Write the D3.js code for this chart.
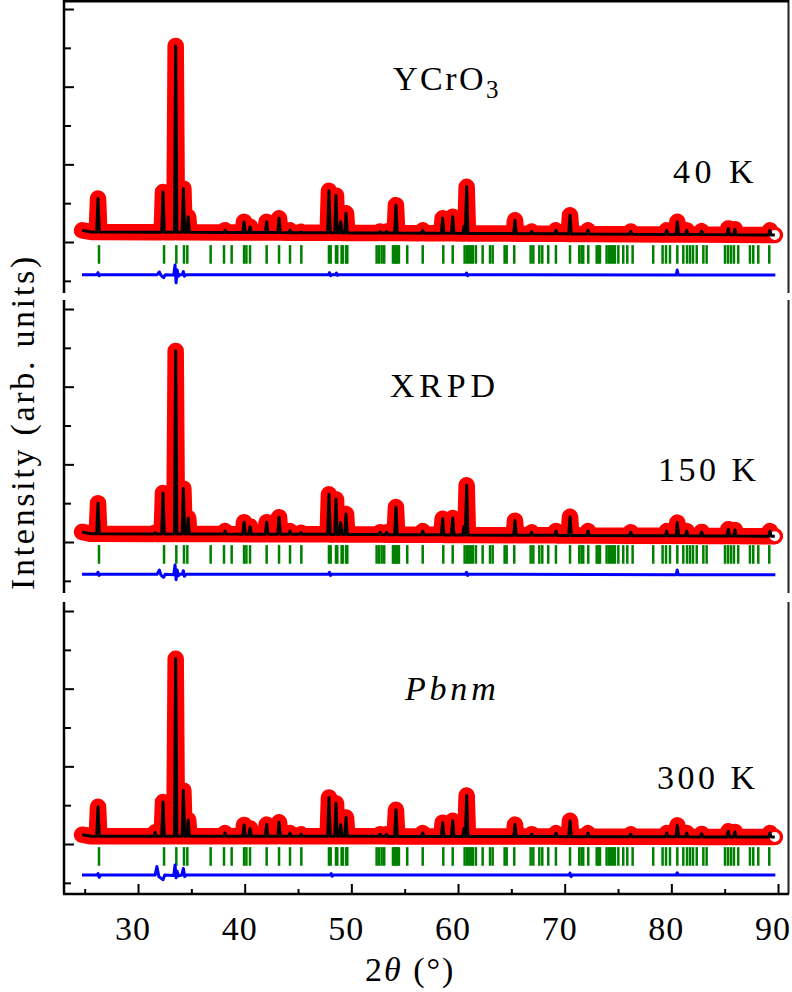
<!DOCTYPE html>
<html>
<head>
<meta charset="utf-8">
<script src="https://cdn.jsdelivr.net/npm/d3@7"></script>
<style>
  body { margin: 0; background: #fff; }
  svg { display: block; }
  text { font-family: "Liberation Serif", "Times New Roman", serif; fill: #000; }
</style>
</head>
<body>
<svg id="chart" width="792" height="992"></svg>
<script>
// Reflection positions (2theta, deg)
var peakPos = [26.25, 31.6, 32.34, 33.53, 34.25, 34.7, 38.15, 39.94, 40.5, 42.06, 43.22, 44.25, 45.28,
    47.9, 48.56, 49.0, 49.5, 52.7, 53.3, 54.18, 56.69, 58.56, 59.5, 60.56, 60.81, 65.34, 66.9,
    69.18, 70.5, 72.18, 76.19, 79.56, 80.56, 81.44, 82.84, 85.34, 85.96, 89.24];

// Apex intensities (arb. units) for each temperature
var peak40K = [1.12, 0.26, 1.29, 5.05, 1.38, 0.65, 0.3, 0.52, 0.39, 0.52, 0.61, 0.3, 0.26,
    1.32, 1.2, 0.52, 0.74, 0.27, 0.27, 0.95, 0.3, 0.61, 0.65, 0.4, 1.42, 0.56, 0.27,
    0.3, 0.69, 0.3, 0.27, 0.3, 0.52, 0.3, 0.28, 0.35, 0.33, 0.3];
var peak150K = [1.0, 0.24, 1.26, 4.92, 1.38, 0.62, 0.28, 0.51, 0.4, 0.51, 0.64, 0.28, 0.24,
    1.23, 1.1, 0.5, 0.72, 0.25, 0.25, 0.9, 0.28, 0.6, 0.62, 0.4, 1.46, 0.55, 0.25,
    0.28, 0.65, 0.28, 0.25, 0.28, 0.5, 0.28, 0.26, 0.33, 0.31, 0.28];
var peak300K = [0.96, 0.3, 1.08, 4.77, 1.38, 0.62, 0.28, 0.49, 0.4, 0.5, 0.56, 0.28, 0.25,
    1.2, 1.05, 0.5, 0.68, 0.25, 0.25, 0.88, 0.28, 0.55, 0.6, 0.4, 1.25, 0.5, 0.25,
    0.28, 0.6, 0.28, 0.25, 0.28, 0.48, 0.28, 0.26, 0.33, 0.31, 0.28];

// Background level [2theta, intensity]
var bg40K = [[24.75, 0.3], [25.6, 0.26], [45, 0.24], [70, 0.21], [89.7, 0.18]];
var bg150K = [[24.75, 0.26], [25.6, 0.21], [45, 0.2], [70, 0.17], [89.7, 0.15]];
var bg300K = [[24.75, 0.24], [25.6, 0.2], [45, 0.2], [70, 0.19], [89.7, 0.18]];

// Difference curves (obs - calc, shifted down) [2theta, intensity]
var diff40K = [[24.75, -0.84], [26.15, -0.84], [26.25, -0.79], [26.35, -0.87], [26.5, -0.84],
    [31.8, -0.84], [32.0, -0.77], [32.15, -0.86], [32.4, -0.92], [32.55, -0.84],
    [33.35, -0.85], [33.47, -0.59], [33.57, -1.05], [33.67, -0.72], [33.78, -0.88], [33.9, -0.84],
    [34.15, -0.84], [34.25, -0.76], [34.35, -0.88], [34.5, -0.84],
    [47.85, -0.84], [47.95, -0.79], [48.05, -0.87], [48.15, -0.84],
    [48.5, -0.84], [48.6, -0.8], [48.7, -0.86], [48.8, -0.84],
    [60.7, -0.84], [60.8, -0.8], [60.9, -0.87], [61.0, -0.84],
    [80.45, -0.85], [80.55, -0.72], [80.65, -0.85], [89.75, -0.85]];
var diff150K = [[24.75, -0.83], [26.15, -0.83], [26.25, -0.78], [26.35, -0.86], [26.5, -0.83],
    [31.8, -0.83], [32.0, -0.72], [32.15, -0.85], [32.4, -0.91], [32.55, -0.83],
    [33.35, -0.84], [33.47, -0.59], [33.57, -0.97], [33.67, -0.72], [33.78, -0.87], [33.9, -0.83],
    [34.15, -0.83], [34.25, -0.74], [34.35, -0.88], [34.5, -0.83],
    [47.85, -0.83], [47.95, -0.78], [48.05, -0.86], [48.15, -0.83],
    [60.7, -0.83], [60.8, -0.78], [60.9, -0.86], [61.0, -0.83],
    [80.45, -0.84], [80.55, -0.72], [80.65, -0.84], [89.75, -0.84]];
var diff300K = [[24.75, -0.8], [26.15, -0.8], [26.25, -0.76], [26.35, -0.86], [26.5, -0.8],
    [31.6, -0.8], [31.77, -0.58], [31.95, -0.84], [32.35, -0.92], [32.5, -0.8],
    [33.35, -0.81], [33.47, -0.54], [33.57, -0.87], [33.67, -0.7], [33.8, -0.82], [34.1, -0.8],
    [34.25, -0.63], [34.38, -0.84], [34.5, -0.8],
    [48.0, -0.8], [48.1, -0.76], [48.2, -0.83], [48.3, -0.8],
    [70.4, -0.8], [70.5, -0.75], [70.6, -0.84], [70.7, -0.8],
    [80.45, -0.8], [80.55, -0.74], [80.65, -0.8], [89.75, -0.8]];

// Bragg reflection markers (Pbnm)
var braggPos = [26.34, 32.44, 33.59, 34.31, 34.62, 36.81, 38.06, 38.78, 39.94, 40.16, 40.5, 42.06,
    43.22, 44.25, 45.31, 47.9, 48.06, 48.56, 48.68, 49.09, 49.19, 49.5, 49.62, 52.37, 52.59,
    52.84, 53.08, 53.9, 54.05, 54.2, 54.35, 54.46, 55.24, 56.69, 58.62, 59.5, 60.62, 60.84,
    61.03, 61.22, 61.4, 61.68, 62.31, 63.0, 63.25, 64.37, 64.56, 65.27, 66.81, 67.06, 67.62,
    67.9, 68.46, 69.18, 70.5, 71.37, 71.59, 71.74, 72.21, 73.0, 73.17, 73.31, 73.93, 74.15,
    74.34, 74.53, 74.71, 75.03, 75.49, 75.87, 76.37, 78.3, 79.18, 79.5, 79.87, 80.56, 81.12,
    81.47, 81.75, 82.03, 82.38, 83.0, 83.31, 85.03, 85.31, 85.59, 85.87, 86.27, 87.37, 87.68,
    88.15, 89.18];

var titles = ["YCrO", "XRPD", "Pbnm"];
var temps = ["40 K", "150 K", "300 K"];
var xMajor = [30, 40, 50, 60, 70, 80, 90];
var xMinor = [25, 35, 45, 55, 65, 75, 85];

var startT = 24.75, endT = 89.7, halfW = 0.12;

var svg = d3.select("#chart");
var x = d3.scaleLinear().domain([23.06, 91.03]).range([64, 789]);

// background at a given angle, linear between the listed points
function bgAt(bg, t) {
    var i = d3.bisector(function(d) { return d[0]; }).right(bg, t);
    if (i <= 0) return bg[0][1];
    if (i >= bg.length) return bg[bg.length - 1][1];
    var a = bg[i - 1], b = bg[i];
    return a[1] + (b[1] - a[1]) * (t - a[0]) / (b[0] - a[0]);
}

// vertices of the profile: background plus a narrow spike per reflection
function profile(bg, heights) {
    var ts = bg.map(function(d) { return d[0]; });
    peakPos.forEach(function(p) { ts.push(p - halfW, p, p + halfW); });
    ts = ts.filter(function(t) { return t >= startT && t <= endT; }).sort(d3.ascending);
    return ts.map(function(t) {
        var y = bgAt(bg, t);
        peakPos.forEach(function(p, i) {
            var d = Math.abs(t - p);
            if (d < halfW) y += (heights[i] - bgAt(bg, p)) * (1 - d / halfW);
        });
        return [t, y];
    });
}

var panels = [
    { top: 0, h: 293, peaks: peak40K, bg: bg40K, diff: diff40K, title: titles[0], temp: temps[0],
      tx: 393, ty: 90, ls: 2.5, kx: 673, ky: 183, kls: 4.5 },
    { top: 300, h: 293, peaks: peak150K, bg: bg150K, diff: diff150K, title: titles[1], temp: temps[1],
      tx: 390, ty: 97, ls: 4.8, kx: 658, ky: 181, kls: 3.5 },
    { top: 602, h: 292, peaks: peak300K, bg: bg300K, diff: diff300K, title: titles[2], temp: temps[2],
      tx: 405, ty: 98, ls: 3.8, kx: 657, ky: 187, kls: 3.5 }
];

panels.forEach(function(p, k) {
    var y = d3.scaleLinear().domain([-1.313, 6.232]).range([p.top + 293, p.top]);
    var g = svg.append("g");
    var line = d3.line().x(function(d) { return x(d[0]); }).y(function(d) { return y(d[1]); });
    var prof = profile(p.bg, p.peaks);

    // observed (open circles, overlapping into a band)
    g.append("path")
        .attr("d", line(prof))
        .attr("fill", "none")
        .attr("stroke", "#ff0000")
        .attr("stroke-width", 16.5)
        .attr("stroke-linejoin", "round")
        .attr("stroke-linecap", "round");
    var last = prof[prof.length - 1];
    g.append("circle")
        .attr("cx", x(last[0])).attr("cy", y(last[1])).attr("r", 6.5)
        .attr("fill", "#fff").attr("stroke", "#ff0000").attr("stroke-width", 3);

    // calculated
    g.append("path")
        .attr("d", line(prof))
        .attr("fill", "none")
        .attr("stroke", "#000")
        .attr("stroke-width", 3)
        .attr("stroke-linejoin", "round");

    // Bragg positions
    g.selectAll(".bragg")
        .data(braggPos)
        .enter()
        .append("line")
        .attr("x1", function(d) { return x(d); })
        .attr("x2", function(d) { return x(d); })
        .attr("y1", y(-0.08))
        .attr("y2", y(-0.56))
        .attr("stroke", "#008000")
        .attr("stroke-width", 2.5);

    // difference
    g.append("path")
        .attr("d", line(p.diff))
        .attr("fill", "none")
        .attr("stroke", "#0000ff")
        .attr("stroke-width", 3)
        .attr("stroke-linejoin", "round");

    // y ticks, pointing inwards
    g.append("g")
        .attr("transform", "translate(64,0)")
        .call(d3.axisRight(y).tickValues([0, 2, 4, 6]).tickSize(10).tickFormat(""))
        .call(function(a) { a.select(".domain").remove(); });
    g.append("g")
        .attr("transform", "translate(64,0)")
        .call(d3.axisRight(y).tickValues([-1, 1, 3, 5]).tickSize(7).tickFormat(""))
        .call(function(a) { a.select(".domain").remove(); });
    g.selectAll(".tick line").attr("stroke", "#000").attr("stroke-width", 2);

    // frame pieces
    g.append("line").attr("x1", 64).attr("x2", 64).attr("y1", p.top).attr("y2", p.top + p.h)
        .attr("stroke", "#000").attr("stroke-width", 2.5);
    g.append("line").attr("x1", 788.5).attr("x2", 788.5).attr("y1", p.top).attr("y2", p.top + p.h)
        .attr("stroke", "#222").attr("stroke-width", 2);

    // labels
    var t = g.append("text")
        .attr("x", p.tx).attr("y", p.top + p.ty)
        .attr("font-size", 34)
        .attr("letter-spacing", p.ls);
    if (k == 0) {
        t.text(p.title);
        t.append("tspan").attr("font-size", 25).attr("dy", 8).text("3");
    } else if (k == 2) {
        t.attr("font-style", "italic").text(p.title);
    } else {
        t.text(p.title);
    }
    g.append("text")
        .attr("x", p.kx).attr("y", p.top + p.ky)
        .attr("font-size", 34)
        .attr("letter-spacing", p.kls)
        .text(p.temp);
});

// top border and bottom axis
svg.append("line").attr("x1", 63).attr("x2", 789).attr("y1", 1.2).attr("y2", 1.2)
    .attr("stroke", "#000").attr("stroke-width", 2.5);
svg.append("line").attr("x1", 63).attr("x2", 789).attr("y1", 894).attr("y2", 894)
    .attr("stroke", "#000").attr("stroke-width", 2.5);

var xAxisMajor = svg.append("g")
    .attr("transform", "translate(0,894)")
    .call(d3.axisTop(x).tickValues(xMajor).tickSize(10).tickFormat(""));
var xAxisMinor = svg.append("g")
    .attr("transform", "translate(0,894)")
    .call(d3.axisTop(x).tickValues(xMinor).tickSize(5).tickFormat(""));
svg.selectAll(".domain").remove();
xAxisMajor.selectAll(".tick line").attr("stroke", "#000").attr("stroke-width", 2);
xAxisMinor.selectAll(".tick line").attr("stroke", "#000").attr("stroke-width", 2);

svg.selectAll(".xlab")
    .data(xMajor)
    .enter()
    .append("text")
    .attr("x", function(d) { return x(d) - 5; })
    .attr("y", 940)
    .attr("text-anchor", "middle")
    .attr("font-size", 34)
    .attr("letter-spacing", 1)
    .text(function(d) { return d; });

// axis titles
var xt = svg.append("text")
    .attr("x", 365).attr("y", 981)
    .attr("font-size", 34)
    .attr("letter-spacing", 2);
xt.append("tspan").text("2");
xt.append("tspan").attr("font-style", "italic").text("θ");
xt.append("tspan").text(" (°)");

svg.append("text")
    .attr("transform", "translate(34,590) rotate(-90)")
    .attr("font-size", 34)
    .attr("letter-spacing", 2.7)
    .text("Intensity (arb. units)");
</script>
</body>
</html>
